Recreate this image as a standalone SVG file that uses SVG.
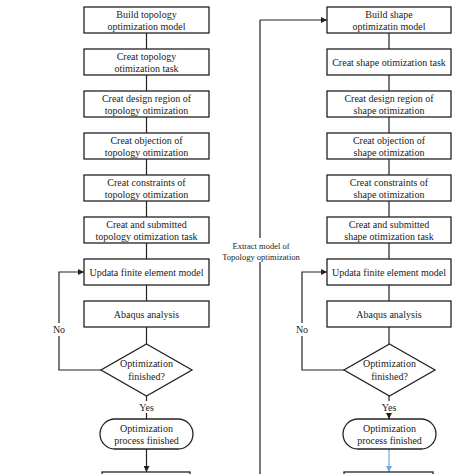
<svg xmlns="http://www.w3.org/2000/svg" width="474" height="474" viewBox="0 0 474 474">
<style>
.b{fill:#fff;stroke:#222;stroke-width:1.3}
.t{font-family:"Liberation Serif","Times New Roman",serif;font-size:10px;fill:#222;text-anchor:middle}
.s{font-family:"Liberation Serif","Times New Roman",serif;font-size:8.5px;fill:#222;text-anchor:middle}
.c{fill:none;stroke:#222;stroke-width:1.2}
.cb{fill:none;stroke:#6fa8dc;stroke-width:1.2}
</style>
<defs>
<marker id="a" markerUnits="userSpaceOnUse" markerWidth="6" markerHeight="6" refX="6" refY="3" orient="auto"><path d="M0,0L6,3L0,6z" fill="#222"/></marker>
<marker id="ab" markerUnits="userSpaceOnUse" markerWidth="6" markerHeight="6" refX="6" refY="3" orient="auto"><path d="M0,0L6,3L0,6z" fill="#6fa8dc"/></marker>
</defs>
<rect width="474" height="474" fill="#fff"/>
<g id="connectors">
<path class="c" marker-end="url(#a)" d="M146.5,33V49M146.5,75V91M146.5,117V133M146.5,159V175M146.5,201V217M146.5,243V259M146.5,285V301M146.5,327V344M146.5,413V419M146.5,449V472"/>
<path class="c" d="M146.5,396V401"/>
<path class="c" marker-end="url(#a)" d="M101,370H59V336M59,323V272H84"/>
<path class="c" marker-end="url(#a)" d="M389,33V49M389,75V91M389,117V133M389,159V175M389,201V217M389,243V259M389,285V301M389,327V344M389,413V419"/>
<path class="c" d="M389,396V401"/>
<path class="cb" marker-end="url(#ab)" d="M389,449V472"/>
<path class="c" marker-end="url(#a)" d="M344,370H302V336M302,323V272H327"/>
<path class="c" d="M260,474V262M260,238V20"/>
<path class="c" marker-end="url(#a)" d="M260,20H327"/>
<text class="s" x="261" y="249">Extract model of</text>
<text class="s" x="261" y="259.5">Topology optimization</text>
<text class="t" x="59" y="332.5">No</text>
<text class="t" x="146.5" y="410.5">Yes</text>
<text class="t" x="302" y="332.5">No</text>
<text class="t" x="389" y="410.5">Yes</text>
</g>
<g id="L1"><rect class="b" x="84" y="7" width="125" height="26"/><text class="t" x="146.5" y="17.5">Build topology</text><text class="t" x="146.5" y="29.5">optimization model</text></g>
<g id="L2"><rect class="b" x="84" y="49" width="125" height="26"/><text class="t" x="146.5" y="59.5">Creat topology</text><text class="t" x="146.5" y="71.5">otimization task</text></g>
<g id="L3"><rect class="b" x="84" y="91" width="125" height="26"/><text class="t" x="146.5" y="101.5">Creat design region of</text><text class="t" x="146.5" y="113.5">topology otimization</text></g>
<g id="L4"><rect class="b" x="84" y="133" width="125" height="26"/><text class="t" x="146.5" y="143.5">Creat objection of</text><text class="t" x="146.5" y="155.5">topology otimization</text></g>
<g id="L5"><rect class="b" x="84" y="175" width="125" height="26"/><text class="t" x="146.5" y="185.5">Creat constraints of</text><text class="t" x="146.5" y="197.5">topology otimization</text></g>
<g id="L6"><rect class="b" x="84" y="217" width="125" height="26"/><text class="t" x="146.5" y="227.5">Creat and submitted</text><text class="t" x="146.5" y="239.5">topology otimization task</text></g>
<g id="L7"><rect class="b" x="84" y="259" width="125" height="26"/><text class="t" x="146.5" y="275.5">Updata finite element model</text></g>
<g id="L8"><rect class="b" x="84" y="301" width="125" height="26"/><text class="t" x="146.5" y="317.5">Abaqus analysis</text></g>
<g id="L9"><polygon class="b" points="146.5,344 192,370 146.5,396 101,370"/><text class="t" x="146.5" y="366.5">Optimization</text><text class="t" x="146.5" y="379.5">finished?</text></g>
<g id="L10"><rect class="b" x="100" y="419" width="93" height="30" rx="15"/><text class="t" x="146.5" y="431.5">Optimization</text><text class="t" x="146.5" y="443.5">process finished</text></g>
<g id="L11"><rect class="b" x="102" y="472" width="88" height="20"/></g>
<g id="R1"><rect class="b" x="327" y="7" width="124" height="26"/><text class="t" x="389" y="17.5">Build shape</text><text class="t" x="389" y="29.5">optimizatin model</text></g>
<g id="R2"><rect class="b" x="327" y="49" width="124" height="26"/><text class="t" x="389" y="65.5">Creat shape otimization task</text></g>
<g id="R3"><rect class="b" x="327" y="91" width="124" height="26"/><text class="t" x="389" y="101.5">Creat design region of</text><text class="t" x="389" y="113.5">shape otimization</text></g>
<g id="R4"><rect class="b" x="327" y="133" width="124" height="26"/><text class="t" x="389" y="143.5">Creat objection of</text><text class="t" x="389" y="155.5">shape otimization</text></g>
<g id="R5"><rect class="b" x="327" y="175" width="124" height="26"/><text class="t" x="389" y="185.5">Creat constraints of</text><text class="t" x="389" y="197.5">shape otimization</text></g>
<g id="R6"><rect class="b" x="327" y="217" width="124" height="26"/><text class="t" x="389" y="227.5">Creat and submitted</text><text class="t" x="389" y="239.5">shape otimization task</text></g>
<g id="R7"><rect class="b" x="327" y="259" width="124" height="26"/><text class="t" x="389" y="275.5">Updata finite element model</text></g>
<g id="R8"><rect class="b" x="327" y="301" width="124" height="26"/><text class="t" x="389" y="317.5">Abaqus analysis</text></g>
<g id="R9"><polygon class="b" points="389.5,344 435,370 389.5,396 344,370"/><text class="t" x="389.5" y="366.5">Optimization</text><text class="t" x="389.5" y="379.5">finished?</text></g>
<g id="R10"><rect class="b" x="343" y="419" width="93" height="30" rx="15"/><text class="t" x="389.5" y="431.5">Optimization</text><text class="t" x="389.5" y="443.5">process finished</text></g>
<g id="R11"><rect class="b" x="344" y="472" width="89" height="20"/></g>
</svg>
